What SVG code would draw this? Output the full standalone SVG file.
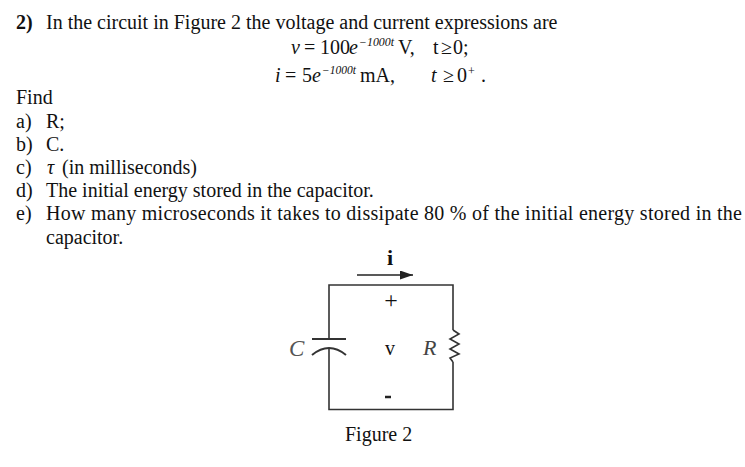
<svg xmlns="http://www.w3.org/2000/svg" width="745" height="467" viewBox="0 0 745 467">
<style>
text{font-family:"Liberation Serif","Times New Roman",serif;font-size:20px;fill:#111}
text.eq{font-size:20px}
text.sup{font-size:11.5px;font-style:italic}
text.it{font-style:italic}
.w{fill:none;stroke:#333;stroke-width:1.6}
.p{fill:none;stroke:#333;stroke-width:2}
</style>
<defs><marker id="ah" markerWidth="13" markerHeight="9" refX="13" refY="4.5" orient="auto" markerUnits="userSpaceOnUse"><path d="M0 0L13 4.5L0 9Z" fill="#222"/></marker></defs>
<rect width="745" height="467" fill="#fff"/>
<text x="16" y="29" font-weight="bold">2)</text>
<text x="46" y="29">In the circuit in Figure 2 the voltage and current expressions are</text>
<text x="291" y="54" class="eq it">v</text><text x="304" y="54" class="eq">=</text><text x="320" y="54" class="eq">100</text><text x="349" y="54" class="eq it">e</text><text x="359" y="46" class="sup" textLength="35" lengthAdjust="spacingAndGlyphs">−1000t</text><text x="398" y="54" class="eq">V,</text><text x="433" y="54" class="eq">t</text><text x="441" y="54" class="eq">≥</text><text x="453" y="54" class="eq">0;</text>
<text x="275" y="82" class="eq it">i</text><text x="285" y="82" class="eq">=</text><text x="302" y="82" class="eq">5</text><text x="312" y="82" class="eq it">e</text><text x="322" y="74" class="sup" textLength="34" lengthAdjust="spacingAndGlyphs">−1000t</text><text x="360" y="82" class="eq">mA,</text><text x="431" y="82" class="eq it">t</text><text x="443" y="82" class="eq">≥</text><text x="457" y="82" class="eq">0</text><text x="468" y="75" style="font-size:12px">+</text><text x="481" y="82" class="eq">.</text>
<text x="16" y="104">Find</text>
<text x="16" y="128">a)</text><text x="46" y="128">R;</text>
<text x="16" y="151">b)</text><text x="46" y="151">C.</text>
<text x="16" y="174">c)</text><text x="47" y="174" class="it">τ</text><text x="62" y="174">(in milliseconds)</text>
<text x="16" y="197">d)</text><text x="46" y="197">The initial energy stored in the capacitor.</text>
<text x="16" y="220">e)</text><text x="46" y="220" textLength="696" lengthAdjust="spacing">How many microseconds it takes to dissipate 80 % of the initial energy stored in the</text>
<text x="46" y="244">capacitor.</text>
<g id="connectors">
<path class="w" d="M329 339V285H453V330M453 362V409.500H329V348"/>
<path d="M357 275H413" stroke="#222" stroke-width="1.5" marker-end="url(#ah)"/>
</g>
<g id="capacitor">
<path class="p" d="M312 339H346"/>
<path class="p" d="M312 355Q329 341 346 355"/>
<text x="289" y="356" class="it" style="fill:#555;font-size:23px">C</text>
</g>
<g id="resistor">
<path class="w" d="M453 330L459 334L450 339L459 344L450 349L459 354L450 358L453 362"/>
<text x="423" y="355" class="it" style="fill:#444;font-size:22px">R</text>
</g>
<g id="labels">
<text x="390" y="265" text-anchor="middle" style="font-size:22px;font-weight:bold">i</text>
<text x="391" y="308" text-anchor="middle" style="font-size:24px">+</text>
<text x="390" y="355" text-anchor="middle" style="font-size:20px">v</text>
<path d="M385 397H391" stroke="#222" stroke-width="2.500"/>
<text x="345" y="441">Figure 2</text>
</g>
</svg>
